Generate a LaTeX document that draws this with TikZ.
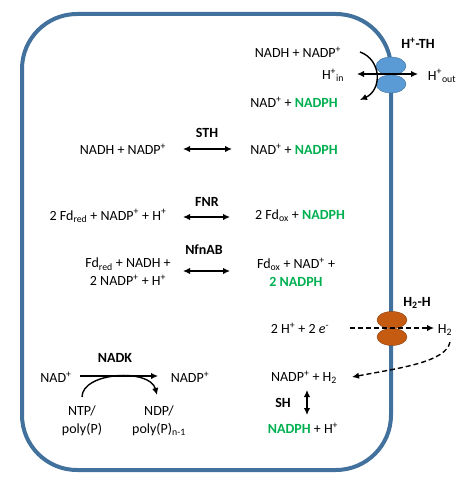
\documentclass[tikz,border=0pt]{standalone}
\usepackage{fontspec}
\setmainfont{Carlito}
\usetikzlibrary{arrows.meta}

\definecolor{membrane}{RGB}{65,113,156}
\definecolor{thblue}{RGB}{91,155,213}
\definecolor{hhorange}{RGB}{197,90,17}
\definecolor{nadphgreen}{RGB}{0,176,80}

\newcommand{\NADPH}{\textcolor{nadphgreen}{\textbf{NADPH}}}
\newcommand{\Hp}{H\textsuperscript{+}}

\begin{document}
\begin{tikzpicture}[x=1pt,y=-1pt,
	every node/.style={font=\fontsize{14}{18}\selectfont},
	enzyme/.style={font=\fontsize{14}{18}\selectfont\bfseries},
	rxn/.style={line width=1.4pt},
	gas/.style={line width=1.4pt,dash pattern=on 5pt off 3pt},
	>={Latex[length=7pt,width=6.5pt]}]
\useasboundingbox (0,0) rectangle (474,487);

\draw[membrane,line width=4pt,rounded corners=55pt] (22,14) rectangle (391,470); % cell

\draw[membrane,fill=thblue] (391,66) ellipse [x radius=15pt, y radius=9pt]; % TH.top
\draw[membrane,fill=thblue] (391,84) ellipse [x radius=15pt, y radius=9pt]; % TH.bottom
\draw[hhorange!70!black,fill=hhorange] (392,320) ellipse [x radius=15pt, y radius=8.5pt]; % HH.top
\draw[hhorange!70!black,fill=hhorange] (392,337) ellipse [x radius=15pt, y radius=8.5pt]; % HH.bottom

% transhydrogenase
\node[enzyme] (TH) at (418,43) {\Hp-TH};
\node (nadhTH) at (298,52) {NADH + NADP\textsuperscript{+}};
\node (hin) at (333,75) {\Hp\textsubscript{in}};
\node (hout) at (442,76) {\Hp\textsubscript{out}};
\node (nadTH) at (294,102) {NAD\textsuperscript{+} + \NADPH};
\coordinate (thL) at (357,74);
\coordinate (thR) at (418,74);
\coordinate (thA) at (360,52);
\coordinate (thB) at (360,100);
\draw[rxn,<->] (thL) -- (thR);
\draw[rxn,->] (thA) .. controls (382,60) and (382,90) .. (thB);

% STH
\node[enzyme] (STH) at (207,133) {STH};
\node (sthA) at (123,149) {NADH + NADP\textsuperscript{+}};
\node (sthB) at (294,149) {NAD\textsuperscript{+} + \NADPH};
\coordinate (sthL) at (183,149);
\coordinate (sthR) at (232,149);
\draw[rxn,<->] (sthL) -- (sthR);

% FNR
\node[enzyme] (FNR) at (207,202) {FNR};
\node (fnrA) at (108,216) {2 Fd\textsubscript{red} + NADP\textsuperscript{+} + \Hp};
\node (fnrB) at (300,216) {2 Fd\textsubscript{ox} + \NADPH};
\coordinate (fnrL) at (183,217);
\coordinate (fnrR) at (230,217);
\draw[rxn,<->] (fnrL) -- (fnrR);

% NfnAB
\node[enzyme] (NFN) at (204,250) {NfnAB};
\node[align=center] (nfnA) at (128,272) {Fd\textsubscript{red} + NADH +\\2 NADP\textsuperscript{+} + \Hp};
\node[align=center] (nfnB) at (296,272) {Fd\textsubscript{ox} + NAD\textsuperscript{+} +\\\textcolor{nadphgreen}{\textbf{2 NADPH}}};
\coordinate (nfnL) at (183,271);
\coordinate (nfnR) at (230,271);
\draw[rxn,<->] (nfnL) -- (nfnR);

% hydrogenases
\node[enzyme] (HH) at (417,303) {H\textsubscript{2}-H};
\node (hplus) at (300,328) {2 \Hp{} + 2 \textit{e}\textsuperscript{-}};
\node (h2out) at (445,330) {H\textsubscript{2}};
\node (nadpH2) at (304,377) {NADP\textsuperscript{+} + H\textsubscript{2}};
\node[enzyme] (SH) at (283,403) {SH};
\node (nadphH) at (303,428) {\NADPH{} + \Hp};
\coordinate (hhL) at (350,328);
\coordinate (hhR) at (434,328);
\coordinate (h2A) at (450,342);
\coordinate (h2B) at (352,377);
\coordinate (shT) at (307,390);
\coordinate (shB) at (307,415);
\draw[gas,->] (hhL) -- (hhR);
\draw[gas,->] (h2A) .. controls (446,362) and (400,368) .. (h2B);
\draw[rxn,<->] (shT) -- (shB);

% NAD kinase
\node[enzyme] (NADK) at (115,358) {NADK};
\node (nad) at (56,377) {NAD\textsuperscript{+}};
\node (nadp) at (190,377) {NADP\textsuperscript{+}};
\node[align=center] (ntp) at (82,421) {NTP/\\poly(P)};
\node[align=center] (ndp) at (159,421) {NDP/\\poly(P)\textsubscript{n-1}};
\coordinate (nadkL) at (80,376);
\coordinate (nadkR) at (158,376);
\coordinate (ntpT) at (82,397);
\coordinate (ndpT) at (157,395);
\draw[rxn,->] (nadkL) -- (nadkR);
\draw[rxn,->] (ntpT) .. controls (82,372) and (150,368) .. (ndpT);
\end{tikzpicture}
\end{document}
